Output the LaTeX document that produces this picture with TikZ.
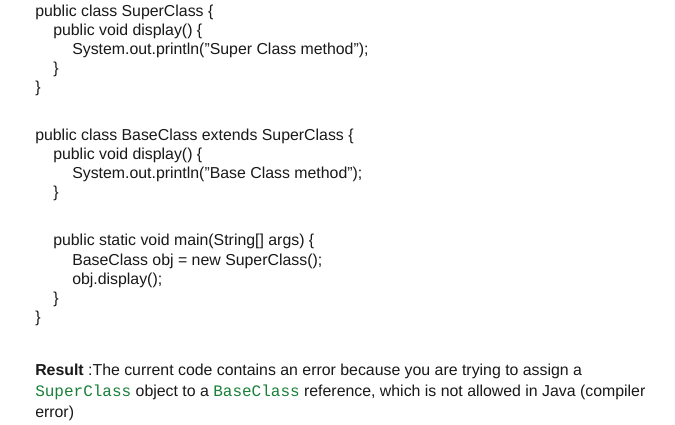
\documentclass[tikz,border=0pt]{standalone}
\usepackage{fontspec}
\setmainfont{Liberation Sans}
\newfontfamily\codemono{Liberation Mono}
\definecolor{codegreen}{HTML}{188038}
\begin{document}
\begin{tikzpicture}[x=0.75pt,y=-0.75pt,
  ln/.style={anchor=west,inner sep=0pt,font=\fontsize{11.9pt}{14pt}\selectfont,text=black!90}]
\useasboundingbox[fill=white] (0,0) rectangle (675,425);
\node[ln] (l1) at (35,12) {public class SuperClass \{};
\node[ln] (l2) at (53,31) {public void display() \{};
\node[ln] (l3) at (72,50) {System.out.println("Super Class method");};
\node[ln] (l4) at (53,69) {\}};
\node[ln] (l5) at (35,88) {\}};
\node[ln] (l7) at (35,136) {public class BaseClass extends SuperClass \{};
\node[ln] (l8) at (53,155) {public void display() \{};
\node[ln] (l9) at (72,174) {System.out.println("Base Class method");};
\node[ln] (l10) at (53,193) {\}};
\node[ln] (l12) at (53,241) {public static void main(String[] args) \{};
\node[ln] (l13) at (72,261) {BaseClass obj = new SuperClass();};
\node[ln] (l14) at (72,280) {obj.display();};
\node[ln] (l15) at (53,299) {\}};
\node[ln] (l16) at (35,318) {\}};
\node[ln] (r1) at (35,371) {\textbf{Result} :The current code contains an error because you are trying to assign a};
\node[ln] (r2) at (35,392) {{\codemono\fontsize{12pt}{14pt}\selectfont\color{codegreen}SuperClass} object to a {\codemono\fontsize{12pt}{14pt}\selectfont\color{codegreen}BaseClass} reference, which is not allowed in Java (compiler};
\node[ln] (r3) at (35,413) {error)};
\end{tikzpicture}
\end{document}
